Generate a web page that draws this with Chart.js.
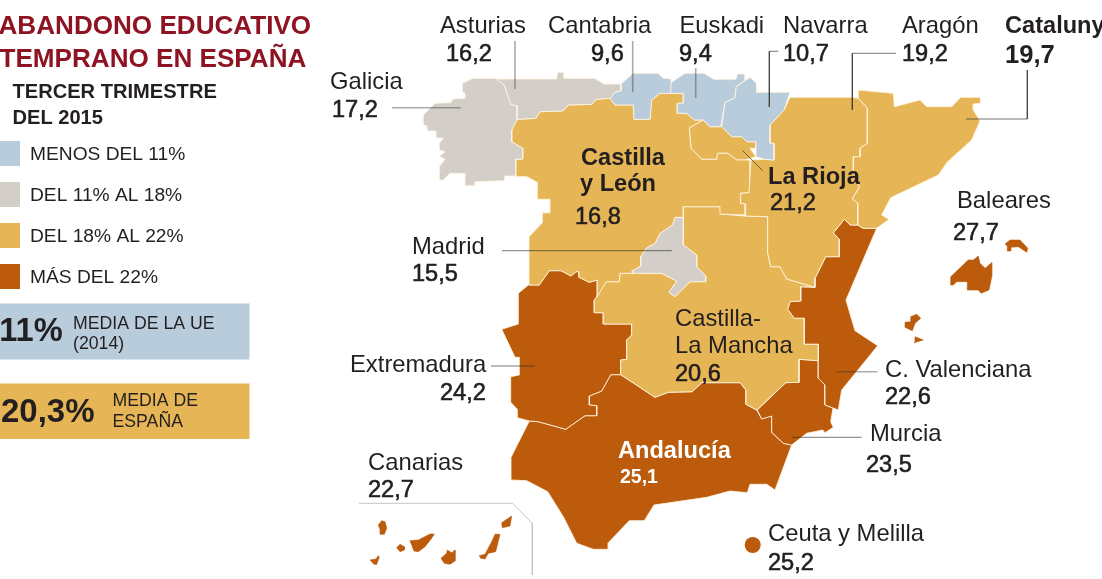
<!DOCTYPE html>
<html>
<head>
<meta charset="utf-8">
<style>
html, body { margin: 0; padding: 0; background: #fff; overflow: hidden; }
canvas { display: block; }
</style>
<script src="https://cdn.jsdelivr.net/npm/chart.js@4"></script>
</head>
<body>
<canvas id="map" width="1102" height="579"></canvas>
<script>
// bands of the legend
var bandLabels = ['MENOS DEL 11%', 'DEL 11% AL 18%', 'DEL 18% AL 22%', 'MÁS DEL 22%'];
var bandColors = ['#b8ccdc', '#d3cfc8', '#e6b556', '#bb5b0b'];

// rate per region, and the band the original map paints it with
var regionNames = ['Galicia', 'Asturias', 'Cantabria', 'Euskadi', 'Navarra', 'Aragón', 'Catalunya', 'Castilla y León',
                   'La Rioja', 'Madrid', 'Castilla-La Mancha', 'Extremadura', 'C. Valenciana', 'Murcia', 'Andalucía',
                   'Baleares', 'Canarias', 'Ceuta y Melilla'];
var regionValues = ['17,2', '16,2', '9,6', '9,4', '10,7', '19,2', '19,7', '16,8', '21,2', '15,5', '20,6', '24,2', '22,6',
                    '23,5', '25,1', '27,7', '22,7', '25,2'];
var regionBands = [1, 1, 0, 0, 0, 2, 2, 2, 2, 1, 2, 3, 3, 3, 3, 3, 3, 3];

// outlines, in map units
var galicia = [[462.3,83.3],[473.3,78.3],[495,78.3],[504,85],[511,105],[517,105.7],[517,120],[511.7,130],[511.7,141.7],[522.7,148.3],[522.7,159],[515.7,159.3],[515.7,176],[505,176],[504.3,180.7],[475,181.7],[475,185.7],[465.7,185.7],[465,173.3],[450,173.3],[443.3,180],[439.3,180],[439.3,166.7],[445,159],[439.3,156.7],[445,151.7],[439.3,150],[439.3,143.3],[443.3,138.3],[436,137.7],[436,131],[427.7,131],[426.7,125.7],[423.3,125],[423.3,115],[435,103.3],[450.7,102.7],[453.3,99],[465,98.3],[465,93.3],[462.3,91.7]];
var asturias = [[495,79],[556.7,79],[557.7,72.3],[564,72.3],[564,78.3],[594.3,78.3],[604.3,84],[621,84],[621,90.7],[615,92.3],[610,98.3],[596.7,99.3],[591.7,104.3],[568.3,105],[562.7,111],[540,111.7],[536,118.3],[517,119.3],[517,105.7],[511,105],[504,85]];
var cantabria = [[621,84],[633,73.3],[658,73.3],[663.3,78.3],[671,79],[670.7,93.3],[660,93.3],[651.7,100],[650,119.3],[634,119.3],[633.3,105],[615,105],[610,98.3],[615,92.3],[621,90.7]];
var euskadi = [[670.7,82.7],[685,73.3],[704,73.3],[714,79.3],[736,79.3],[737.3,74],[745,74],[745,80],[736,86.7],[735,97.7],[725,102.3],[720.7,126.7],[710,126.7],[703.3,120],[694.3,120],[686.7,113.3],[677.3,113.3],[677.3,103.3],[683.3,103.3],[683.3,93.3],[670.7,93.3]];
var navarra = [[736,86.7],[750,77.3],[756.7,83.3],[756.7,92.3],[790,92.3],[784,110],[770,125],[770,143.3],[774,143.3],[774,160],[765,159.3],[756,156.7],[756,148.3],[756,141.7],[746.7,141.7],[741.7,136.7],[731.7,136.7],[721.7,126.7],[725,102.3],[735,97.7]];
var rioja = [[689.3,127.7],[703.3,120],[710,126.7],[721.7,126.7],[731.7,136.7],[741.7,136.7],[746.7,141.7],[756,141.7],[756,148.3],[750,148.3],[756,156.7],[745,160],[736.7,160],[727.7,153.3],[717.7,153.3],[716.7,159.3],[701.7,159.3],[691,148.3]];
var castillaLeon = [[517,119.3],[536,118.3],[540,111.7],[562.7,111],[568.3,105],[591.7,104.3],[596.7,99.3],[610,98.3],[615,105],[633.3,105],[634,119.3],[650,119.3],[651.7,100],[660,93.3],[683.3,93.3],[683.3,103.3],[677.3,103.3],[677.3,113.3],[686.7,113.3],[694.3,120],[703.3,120],[689.3,127.7],[691,148.3],[701.7,159.3],[716.7,159.3],[717.7,153.3],[727.7,153.3],[736.7,160],[751,160],[750,186.7],[749,192.7],[740.7,193.3],[740.7,203.3],[745.7,204],[745,215],[720.7,214],[720,206.7],[683.3,206.7],[683.3,217.3],[675,217.3],[672.3,225],[660,233.3],[655,243.3],[646.7,247.7],[640.7,256.7],[640.7,266],[632.3,270.7],[632.3,273.3],[620,273.3],[619.3,281.7],[606,281.7],[597.3,296.7],[597.3,280],[589.3,282.3],[579,277.3],[579,271.7],[576,271.7],[571,276],[561,270.7],[549.3,270.7],[539.3,285],[529,285],[529,236.7],[542.3,222.7],[542.3,212.8],[550,212.8],[550,199.3],[537.3,199.3],[537.3,182.3],[526.7,176.7],[515.7,176.7],[515.7,159.3],[522.7,159],[522.7,148.3],[511.7,141.7],[511.7,130]];
var madrid = [[675,217.3],[683.3,217.3],[683.3,245],[696.7,255],[696.7,266.7],[705.7,276],[705.7,281.7],[690,281.7],[675,296.7],[669,292.3],[676.7,281],[661.7,273.3],[632.3,273.3],[632.3,270.7],[640.7,266],[640.7,256.7],[646.7,247.7],[655,243.3],[660,233.3],[672.3,225]];
var mancha = [[683.3,206.7],[720,206.7],[720.7,214],[745,216],[767.7,216.7],[767.7,253],[770.7,266.7],[780,266.7],[786.7,279],[815,287.3],[800.7,286.7],[800.7,301],[790,301.7],[787.7,309.3],[794.3,318.3],[804,318.3],[804.3,344.3],[818.3,344.3],[818.3,360.7],[799,359.3],[799,382.3],[785.7,382.7],[756.7,410],[746,404.3],[746,390],[740,382.7],[701.7,382.7],[692.3,391.7],[668.3,392.3],[655,397.3],[620.7,374.7],[620.7,360],[626.7,359.3],[626.7,340],[631.7,335],[631.7,324],[603.3,324],[603.3,312.7],[594.3,312.7],[594.3,300],[606,281.7],[619.3,281.7],[620,273.3],[661.7,273.3],[676.7,281],[669,292.3],[675,296.7],[690,281.7],[705.7,281.7],[705.7,276],[696.7,266.7],[696.7,255],[683.3,245]];
var aragon = [[790,97.3],[851.7,97.3],[858.3,98.3],[867.3,108.3],[867.3,143.3],[860,148.3],[860,156.7],[853.3,156.7],[853.3,170],[859.3,186.7],[852.3,199],[857.7,203.3],[857.7,225],[850,225],[844.3,219.3],[833.3,233],[839.3,239.3],[839.3,256.7],[825.7,256.7],[815,278.3],[815,287.3],[786.7,279],[780,266.7],[770.7,266.7],[767.7,253],[767.7,216.7],[745,216],[745.7,204],[740.7,203.3],[740.7,193.3],[749,192.7],[751,160],[765,159.3],[774,160],[774,143.3],[770,143.3],[770,125],[784,110]];
var catalunya = [[858.3,90],[893.3,93.3],[894.3,106.7],[920,100],[926.7,106.7],[951.7,106.7],[960.7,97.3],[980.7,97.3],[980.7,103.3],[973.3,104],[973.3,110],[980,121],[971.7,140],[947.7,161.7],[938.3,175],[890.7,197.7],[881.7,215],[889,219.3],[876.7,228.3],[863.3,228.3],[857.7,225],[857.7,203.3],[852.3,199],[859.3,186.7],[853.3,170],[853.3,156.7],[860,156.7],[860,148.3],[867.3,143.3],[867.3,108.3],[858.3,98.3]];
var valencia = [[833.3,233],[844.3,219.3],[850,225],[857.7,225],[863.3,228.3],[876.7,228.3],[846,300],[855,330.7],[877.7,345.7],[841.7,390],[838.3,410],[825,405],[825,385],[818.3,378.3],[818.3,344.3],[804.3,344.3],[804,318.3],[794.3,318.3],[787.7,309.3],[790,301.7],[800.7,301],[800.7,286.7],[815,287.3],[815,278.3],[825.7,256.7],[839.3,256.7],[839.3,239.3]];
var murcia = [[799,359.3],[818.3,360.7],[818.3,378.3],[825,385],[825,405],[833,408],[830.7,421.7],[833.3,427.3],[825,432.7],[822.7,430],[806.7,433.3],[791.7,445],[783.3,443.3],[771.7,432.3],[771.7,416],[761.7,419],[757.3,410],[785.7,382.7],[799,382.3]];
var andalucia = [[529.3,421],[538.3,421.7],[565.7,429.3],[585,415.7],[596.7,415.7],[596.7,405.7],[589.3,405],[589.3,396],[601.7,391],[610.7,374.7],[620.7,374.7],[655,397.3],[668.3,392.3],[692.3,391.7],[701.7,382.7],[740,382.7],[746,390],[746,404.3],[756.7,410],[761.7,419],[771.7,415.7],[771.7,432.3],[783.3,443.3],[791.7,445],[775,490],[766.7,484.3],[750,484.3],[747.3,492.7],[730,491],[706.7,497.3],[654,505],[644.3,520.7],[629.3,520.7],[608.3,542.7],[608.3,549.3],[593.3,549.3],[576.7,543.3],[563.3,516.7],[547.7,491.7],[526.7,480.7],[511,480],[511,457.3]];
var extremadura = [[549.3,270.7],[561,270.7],[571,276],[576,271.7],[579,271.7],[579,277.3],[589.3,282.3],[597.3,280],[597.3,300],[594.3,300],[594.3,312.7],[603.3,312.7],[603.3,324],[631.7,324],[631.7,335],[626.7,340],[626.7,359.3],[620.7,360],[620.7,374.7],[610.7,374.7],[601.7,391],[589.3,396],[589.3,405],[596.7,405.7],[596.7,415.7],[585,415.7],[565.7,429.3],[538.3,421.7],[529.3,421],[517.3,417.7],[517.3,409.3],[510.7,402.3],[510.7,376.7],[519.3,375],[519.3,357.3],[515,357.3],[501.7,329.3],[518.3,324],[518.3,293.3],[528.3,285],[539.3,285]];
var mallorca = [[950.7,276.7],[968.3,260],[973.3,260],[978.3,256],[980,263.3],[985,268.3],[991.7,262.7],[991.7,276.7],[989,290],[981,293.3],[978.3,290],[967.7,290],[967.3,281.7],[956.7,281.7],[953.3,285],[950.7,285]];
var menorca = [[1005,244],[1010,240],[1020,240],[1027.7,248.3],[1026.7,252.3],[1018.3,246.7],[1010.7,247.3],[1010.7,251],[1007.3,251],[1007.3,246]];
var ibiza = [[905,322.3],[910.7,321.7],[910.7,316.7],[916.7,314.3],[920.7,318.3],[915,323.3],[912.3,330.7],[905,327.3]];
var formentera = [[915,336.7],[923.3,340],[914,342.7]];
var laPalma = [[378.3,525],[381.7,520.7],[385,521.7],[386.7,528.3],[384.3,534.3],[380.7,534.3],[380,529.3]];
var gomera = [[396.7,547.7],[400,544.3],[404.3,546.7],[404.3,550],[400,551.7]];
var hierro = [[370,560],[376,559],[378.3,555.7],[379.3,557.3],[376.7,564.3],[374,564.3]];
var tenerife = [[410,540.7],[418.3,540],[430,534],[434.3,534],[431.7,538.3],[425,546.7],[418.3,551.7],[414,551]];
var granCanaria = [[441,558.3],[446.7,553.3],[447.3,550],[451.7,552.7],[455,550],[455,561],[450,564.3],[444.3,563.3]];
var fuerteventura = [[479.3,555.7],[485,554.3],[491.7,541.7],[495,534.3],[500,534.3],[495.7,551.7],[488.3,553.3],[485,559],[480.7,558.3]];
var lanzarote = [[501.7,522.7],[511.7,516],[510,526],[502.3,527.7]];
var ceutaMelilla = [[752.7,545]];

// each region with the shapes that belong to it
var regionShapes = [[galicia], [asturias], [cantabria], [euskadi], [navarra], [aragon], [catalunya], [castillaLeon],
                    [rioja], [madrid], [mancha], [extremadura], [valencia], [murcia], [andalucia],
                    [mallorca, menorca, ibiza, formentera],
                    [laPalma, gomera, hierro, tenerife, granCanaria, fuerteventura, lanzarote], []];
var islandRegions = ['Baleares', 'Canarias'];

// leader lines and the inset frame
var softLeaders = [
    [[392,107.7],[460.7,107.7]],
    [[515,41],[515,89]],
    [[632.7,41],[632.7,92]],
    [[695.7,68],[695.7,97.7]],
    [[836.7,371.7],[877.3,371.7]]
];
var thinLeaders = [
    [[778.3,51.3],[769.3,51.3],[769.3,107]],
    [[896,53.3],[852.3,53.3],[852.3,110]],
    [[1027.3,70],[1027.3,119],[966,119]],
    [[742.7,150.7],[762.7,170.7]],
    [[502,250.7],[671.7,250.7]],
    [[491,366],[535,366]],
    [[792.3,437.3],[861.7,437.3]]
];
var insetFrame = [[359,503.3],[512.7,503.3],[532.3,523.3],[532.3,575]];

// swatches and the two summary boxes
var swatchRows = [141, 182, 223, 264];
var summaryBoxes = [
    { band: 0, top: 303.5, bottom: 359.5 },
    { band: 2, top: 383.5, bottom: 439 }
];

var RED = '#8e1423', INK = '#231f20', WHITE = '#fff';
var FACE = '"Liberation Sans", Arial, sans-serif';
var REGULAR = 0, MEDIUM = 1, BOLD = 2;
var NAME = 23.8, STRONG = 23.6, VALUE = 23.6;

// text: string, x, baseline, size, weight, colour
var titleTexts = [
    ['ABANDONO EDUCATIVO', -1.5, 33.5, 26.1, BOLD, RED],
    ['TEMPRANO EN ESPAÑA', -0.5, 67, 26.1, BOLD, RED],
    ['TERCER TRIMESTRE', 12.5, 97.5, 20.1, BOLD, INK],
    ['DEL 2015', 12.5, 123.5, 20.1, BOLD, INK],
    [bandLabels[0], 30, 159.5, 19.2, REGULAR, INK],
    [bandLabels[1], 30, 200.5, 19.2, REGULAR, INK],
    [bandLabels[2], 30, 241.5, 19.2, REGULAR, INK],
    [bandLabels[3], 30, 283, 19.2, REGULAR, INK],
    ['11%', -0.8, 341, 32.6, BOLD, INK],
    ['MEDIA DE LA UE', 73, 328.5, 17.7, REGULAR, INK],
    ['(2014)', 73, 349, 17.7, REGULAR, INK],
    ['20,3%', 1, 421.5, 33, BOLD, INK],
    ['MEDIA DE', 112.5, 406, 17.7, REGULAR, INK],
    ['ESPAÑA', 112.5, 427, 17.7, REGULAR, INK]
];
var mapTexts = [
    ['Galicia', 330, 89, NAME, REGULAR, INK], [regionValues[0], 332, 117, VALUE, MEDIUM, INK],
    ['Asturias', 440, 32.7, NAME, REGULAR, INK], [regionValues[1], 446, 60.7, VALUE, MEDIUM, INK],
    ['Cantabria', 548, 32.7, NAME, REGULAR, INK], [regionValues[2], 591, 60.7, VALUE, MEDIUM, INK],
    ['Euskadi', 679.5, 32.7, NAME, REGULAR, INK], [regionValues[3], 679, 60.7, VALUE, MEDIUM, INK],
    ['Navarra', 783, 32.7, NAME, REGULAR, INK], [regionValues[4], 783, 60.7, VALUE, MEDIUM, INK],
    ['Aragón', 902, 32.7, NAME, REGULAR, INK], [regionValues[5], 902, 60.7, VALUE, MEDIUM, INK],
    ['Catalunya', 1005, 32.7, STRONG, BOLD, INK], [regionValues[6], 1005, 63.3, 25.6, BOLD, INK],
    ['Castilla', 581, 165, STRONG, BOLD, INK], ['y León', 580, 191, STRONG, BOLD, INK], [regionValues[7], 575, 224, VALUE, MEDIUM, INK],
    ['La Rioja', 768, 184, STRONG, BOLD, INK], [regionValues[8], 770, 210, VALUE, MEDIUM, INK],
    ['Madrid', 412, 254, NAME, REGULAR, INK], [regionValues[9], 412, 281, VALUE, MEDIUM, INK],
    ['Castilla-', 675, 326, NAME, REGULAR, INK], ['La Mancha', 675, 353, NAME, REGULAR, INK], [regionValues[10], 675, 381, VALUE, MEDIUM, INK],
    ['Extremadura', 350, 372, NAME, REGULAR, INK], [regionValues[11], 440, 400, VALUE, MEDIUM, INK],
    ['C. Valenciana', 885, 377, NAME, REGULAR, INK], [regionValues[12], 885, 404, VALUE, MEDIUM, INK],
    ['Murcia', 870, 441, NAME, REGULAR, INK], [regionValues[13], 866, 472, VALUE, MEDIUM, INK],
    ['Andalucía', 618, 458, STRONG, BOLD, WHITE], [regionValues[14], 620, 483, 19.5, BOLD, WHITE],
    ['Baleares', 957, 208, NAME, REGULAR, INK], [regionValues[15], 953, 240, VALUE, MEDIUM, INK],
    ['Canarias', 368, 470, NAME, REGULAR, INK], [regionValues[16], 368, 497, VALUE, MEDIUM, INK],
    ['Ceuta y Melilla', 768, 541, NAME, REGULAR, INK], [regionValues[17], 768, 570, VALUE, MEDIUM, INK]
];

function toPoints(list) {
    return list.map(function(p) { return { x: p[0], y: p[1] }; });
}

function leaderSet(line, color, width) {
    return { data: toPoints(line), showLine: true, fill: false, pointRadius: 0,
             borderColor: color, borderWidth: width, order: 0 };
}

function buildDatasets() {
    var sets = [];
    softLeaders.forEach(function(line) { sets.push(leaderSet(line, 'rgba(60,56,52,0.42)', 1.6)); });
    thinLeaders.forEach(function(line) { sets.push(leaderSet(line, 'rgba(50,46,42,0.65)', 1)); });
    sets.push(leaderSet(insetFrame, '#c6c6c6', 1));
    regionNames.forEach(function(name, i) {
        var color = bandColors[regionBands[i]];
        var island = islandRegions.indexOf(name) >= 0;
        regionShapes[i].forEach(function(shape) {
            sets.push({ label: name, data: toPoints(shape.concat([shape[0]])), showLine: true, fill: 'shape',
                        pointRadius: 0, tension: 0, backgroundColor: color,
                        borderColor: island ? color : 'rgba(255,244,226,0.85)',
                        borderWidth: island ? 0.6 : 1, order: 1 });
        });
    });
    sets.push({ label: 'Ceuta y Melilla', data: toPoints(ceutaMelilla), pointRadius: 8,
                backgroundColor: bandColors[3], borderWidth: 0, order: 1 });
    return sets;
}

// swatches, boxes and every text of the graphic
var furniture = {
    id: 'furniture',
    beforeDatasetsDraw: function(chart) {
        var ctx = chart.ctx, sx = chart.scales.x, sy = chart.scales.y;
        ctx.save();
        swatchRows.forEach(function(top, i) {
            ctx.fillStyle = bandColors[i];
            ctx.fillRect(sx.getPixelForValue(0), sy.getPixelForValue(top), 20, 25);
        });
        summaryBoxes.forEach(function(box) {
            ctx.fillStyle = bandColors[box.band];
            ctx.fillRect(sx.getPixelForValue(0), sy.getPixelForValue(box.top), 249.5, box.bottom - box.top);
        });
        ctx.restore();
    },
    afterDatasetsDraw: function(chart) {
        var ctx = chart.ctx, sx = chart.scales.x, sy = chart.scales.y;
        ctx.save();
        ctx.textAlign = 'left';
        ctx.textBaseline = 'alphabetic';
        titleTexts.concat(mapTexts).forEach(function(t) {
            var x = sx.getPixelForValue(t[1]), y = sy.getPixelForValue(t[2]);
            ctx.font = (t[4] === BOLD ? 'bold ' : '') + t[3] + 'px ' + FACE;
            ctx.fillStyle = t[5];
            ctx.fillText(t[0], x, y);
            if (t[4] === MEDIUM) {
                // no medium cut installed, thicken the regular one
                ctx.strokeStyle = t[5];
                ctx.lineWidth = 0.6;
                ctx.strokeText(t[0], x, y);
            }
        });
        ctx.restore();
    }
};

new Chart(document.getElementById('map'), {
    type: 'scatter',
    data: { datasets: buildDatasets() },
    plugins: [furniture],
    options: {
        responsive: false,
        animation: false,
        devicePixelRatio: 1,
        layout: { padding: 0, autoPadding: false },
        plugins: { legend: { display: false }, tooltip: { enabled: false } },
        scales: {
            x: { type: 'linear', display: false, min: 0, max: 1102 },
            y: { type: 'linear', display: false, min: 0, max: 579, reverse: true }
        }
    }
});
</script>
</body>
</html>
